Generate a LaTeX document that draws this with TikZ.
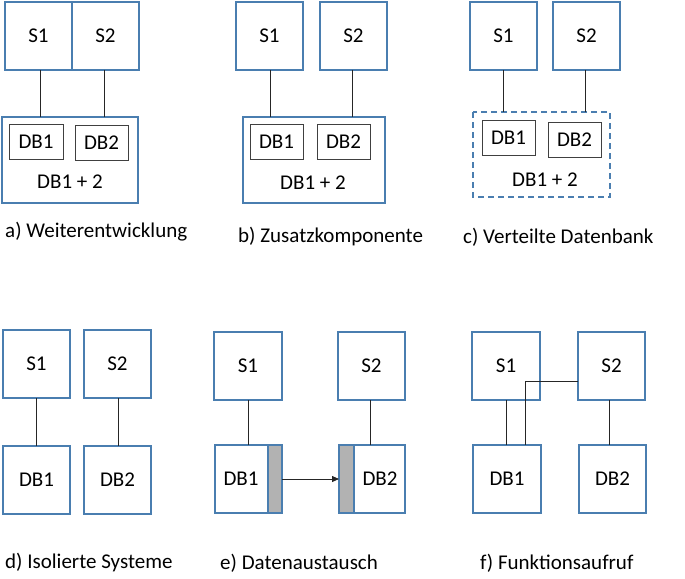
\documentclass[tikz,border=0pt]{standalone}
\usepackage{fontspec}
\setmainfont{Carlito}
\usetikzlibrary{arrows.meta}
\definecolor{bl}{HTML}{4A7EB0}
\begin{document}
\begin{tikzpicture}[x=1pt,y=-1pt,
  box/.style={draw=bl,line width=1.4pt,fill=white},
  ibox/.style={draw=black!75,line width=0.9pt},
  ln/.style={draw=black!85,line width=0.8pt},
  lbl/.style={font=\fontsize{21}{24}\selectfont,inner sep=0pt},
  captxt/.style={font=\fontsize{21}{24}\selectfont,inner sep=0pt,anchor=west}]
\useasboundingbox (0,0) rectangle (685,578);
% a
\draw[box] (5,2) rectangle (72,70); \node[lbl] (aS1) at (38.5,36) {S1};
\draw[box] (72,2) rectangle (139,70); \node[lbl] (aS2) at (105.5,36) {S2};
\draw[box] (2,117) rectangle (138,203);
\draw[ibox] (9,124) rectangle (63,159); \node[lbl] (aD1) at (36,142) {DB1};
\draw[ibox] (75,125) rectangle (128,160); \node[lbl] (aD2) at (101.5,143) {DB2};
\node[lbl] (aD) at (70,182) {DB1 + 2};
\draw[ln] (40,70) -- (40,117); \draw[ln] (104,70) -- (104,117);
\node[captxt] (ca) at (5,232) {a) Weiterentwicklung};
% b
\draw[box] (236,2) rectangle (303,70); \node[lbl] (bS1) at (269.5,36) {S1};
\draw[box] (320,2) rectangle (387,70); \node[lbl] (bS2) at (353.5,36) {S2};
\draw[box] (243,117) rectangle (385,203);
\draw[ibox] (250,124) rectangle (303,159); \node[lbl] (bD1) at (276.5,142) {DB1};
\draw[ibox] (317,124) rectangle (370,159); \node[lbl] (bD2) at (343.5,142) {DB2};
\node[lbl] (bD) at (313,183) {DB1 + 2};
\draw[ln] (270,70) -- (270,117); \draw[ln] (352,70) -- (352,117);
\node[captxt] (cb) at (238,237) {b) Zusatzkomponente};
% c
\draw[box] (470,2) rectangle (537,70); \node[lbl] (cS1) at (503.5,36) {S1};
\draw[box] (553,2) rectangle (620,70); \node[lbl] (cS2) at (586.5,36) {S2};
\draw[box,dash pattern=on 6pt off 4pt] (473,112) rectangle (610,197);
\draw[ibox] (482,120) rectangle (535,155); \node[lbl] (cD1) at (508.5,138) {DB1};
\draw[ibox] (548,122) rectangle (601,157); \node[lbl] (cD2) at (574.5,140) {DB2};
\node[lbl] (cD) at (545,180) {DB1 + 2};
\draw[ln] (503,70) -- (503,112); \draw[ln] (585,70) -- (585,112);
\node[captxt] (cc) at (463,237) {c) Verteilte Datenbank};
% d
\draw[box] (3,330) rectangle (70,398); \node[lbl] (dS1) at (36.5,364) {S1};
\draw[box] (84,330) rectangle (151,398); \node[lbl] (dS2) at (117.5,364) {S2};
\draw[box] (3,446) rectangle (70,514); \node[lbl] (dD1) at (36.5,480) {DB1};
\draw[box] (84,446) rectangle (151,514); \node[lbl] (dD2) at (117.5,480) {DB2};
\draw[ln] (36,398) -- (36,446); \draw[ln] (118,398) -- (118,446);
\node[captxt] (cd) at (5,563) {d) Isolierte Systeme};
% e
\draw[box] (214,332) rectangle (282,400); \node[lbl] (eS1) at (248,366) {S1};
\draw[box] (338,332) rectangle (405,400); \node[lbl] (eS2) at (371.5,366) {S2};
\draw[box] (215,445) rectangle (282,513);
\draw[box,fill=black!30] (268,445) rectangle (282,513);
\node[lbl] (eD1) at (241,479) {DB1};
\draw[box] (339,445) rectangle (405,513);
\draw[box,fill=black!30] (339,445) rectangle (354,513);
\node[lbl] (eD2) at (380,479) {DB2};
\draw[ln] (248,400) -- (248,445); \draw[ln] (370,400) -- (370,445);
\draw[ln,-{Triangle[length=7pt,width=6pt]}] (282,479) -- (339,479);
\node[captxt] (ce) at (220,563) {e) Datenaustausch};
% f
\draw[box] (472,332) rectangle (540,400); \node[lbl] (fS1) at (506,366) {S1};
\draw[box] (578,332) rectangle (645,400); \node[lbl] (fS2) at (611.5,366) {S2};
\draw[box] (473,445) rectangle (541,513); \node[lbl] (fD1) at (507,479) {DB1};
\draw[box] (579,445) rectangle (646,513); \node[lbl] (fD2) at (612.5,479) {DB2};
\draw[ln] (506,400) -- (506,445); \draw[ln] (609,400) -- (609,445);
\draw[ln] (578,381) -- (525,381) -- (525,445);
\node[captxt] (cf) at (480,563) {f) Funktionsaufruf};
\end{tikzpicture}
\end{document}
